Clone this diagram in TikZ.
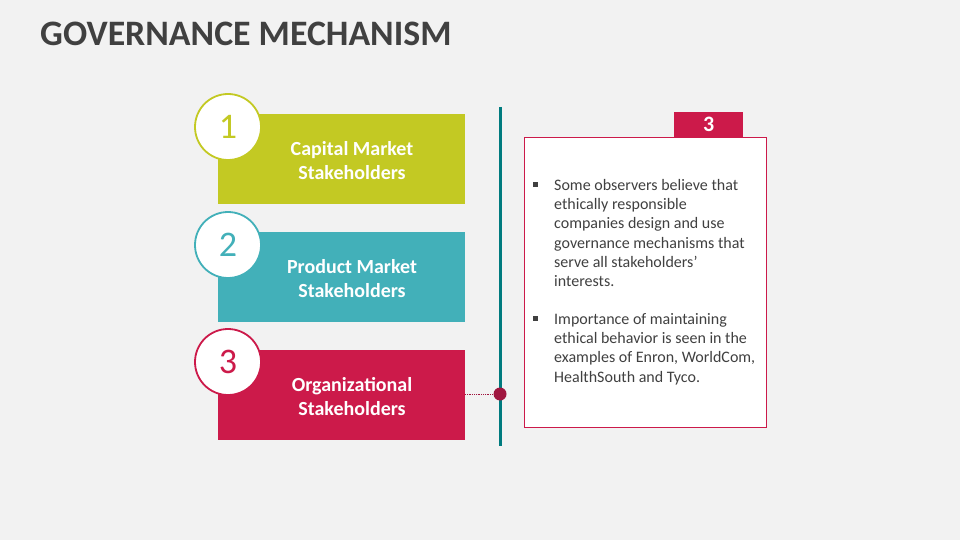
\documentclass[tikz,border=0pt]{standalone}
\usepackage{fontspec}
\setmainfont{Carlito}
\definecolor{bg}{HTML}{F2F2F2}
\definecolor{olive}{HTML}{C3C923}
\definecolor{teal2}{HTML}{42B0B9}
\definecolor{crim}{HTML}{CC1A4A}
\definecolor{darkcrim}{HTML}{A0163F}
\definecolor{vline}{HTML}{007B7F}
\definecolor{titlec}{HTML}{404040}
\definecolor{bodyc}{HTML}{404040}
\begin{document}
\begin{tikzpicture}[x=1pt,y=-1pt,
  stake/.style={minimum width=247pt,minimum height=90pt,inner sep=0pt,anchor=north west},
  num/.style={circle,fill=white,draw=#1,line width=1.8pt,minimum size=66pt,inner sep=0pt,text=#1,font=\fontsize{36}{36}\selectfont},
  stext/.style={text=white,font=\bfseries\fontsize{20}{24}\selectfont,align=center},
  btext/.style={text=bodyc,font=\fontsize{16}{19.3}\selectfont,align=left,anchor=north west,inner sep=0pt}]
\fill[bg] (0,0) rectangle (960,540);
\useasboundingbox (0,0) rectangle (960,540);
\node[anchor=base west,inner sep=0pt,text=titlec,font=\bfseries\fontsize{35.8}{36}\selectfont] (title) at (40,46) {GOVERNANCE MECHANISM};
% boxes
\node[stake,fill=olive] (b1) at (218,114) {};
\node[stake,fill=teal2] (b2) at (218,232) {};
\node[stake,fill=crim] (b3) at (218,350) {};
\node[stext] (t1) at (352,161) {Capital Market\\Stakeholders};
\node[stext] (t2) at (352,279) {Product Market\\Stakeholders};
\node[stext] (t3) at (352,397) {Organizational\\Stakeholders};
\node[num=olive] (c1) at (228,127) {1};
\node[num=teal2] (c2) at (228,245) {2};
\node[num=crim] (c3) at (228,362) {3};
% vertical line
\coordinate (vtop) at (500,107);
\coordinate (vbot) at (500,446);
\draw[vline,line width=3pt] (vtop) -- (vbot);
\node[circle,fill=darkcrim,minimum size=13pt,inner sep=0pt] (dot) at (500,394) {};
\coordinate (b3r) at (465,394);
\draw[darkcrim,densely dotted,line width=0.8pt] (b3r) -- (dot);
% right panel
\node[draw=crim,fill=white,line width=0.8pt,minimum width=242pt,minimum height=290pt,inner sep=0pt,anchor=north west] (panel) at (524,137) {};
\node[fill=crim,minimum width=69pt,minimum height=25pt,inner sep=0pt,anchor=south west,text=white,font=\bfseries\fontsize{22}{22}\selectfont] (tab) at (674,137) {3};
\fill[bodyc] (533,182) rectangle (538,187);
\fill[bodyc] (533,316) rectangle (538,321);
\node[btext] (p1) at (554,179) {Some observers believe that\\ethically responsible\\companies design and use\\governance mechanisms that\\serve all stakeholders’\\interests.};
\node[btext] (p2) at (554,313) {Importance of maintaining\\ethical behavior is seen in the\\examples of Enron, WorldCom,\\HealthSouth and Tyco.};
\end{tikzpicture}
\end{document}
